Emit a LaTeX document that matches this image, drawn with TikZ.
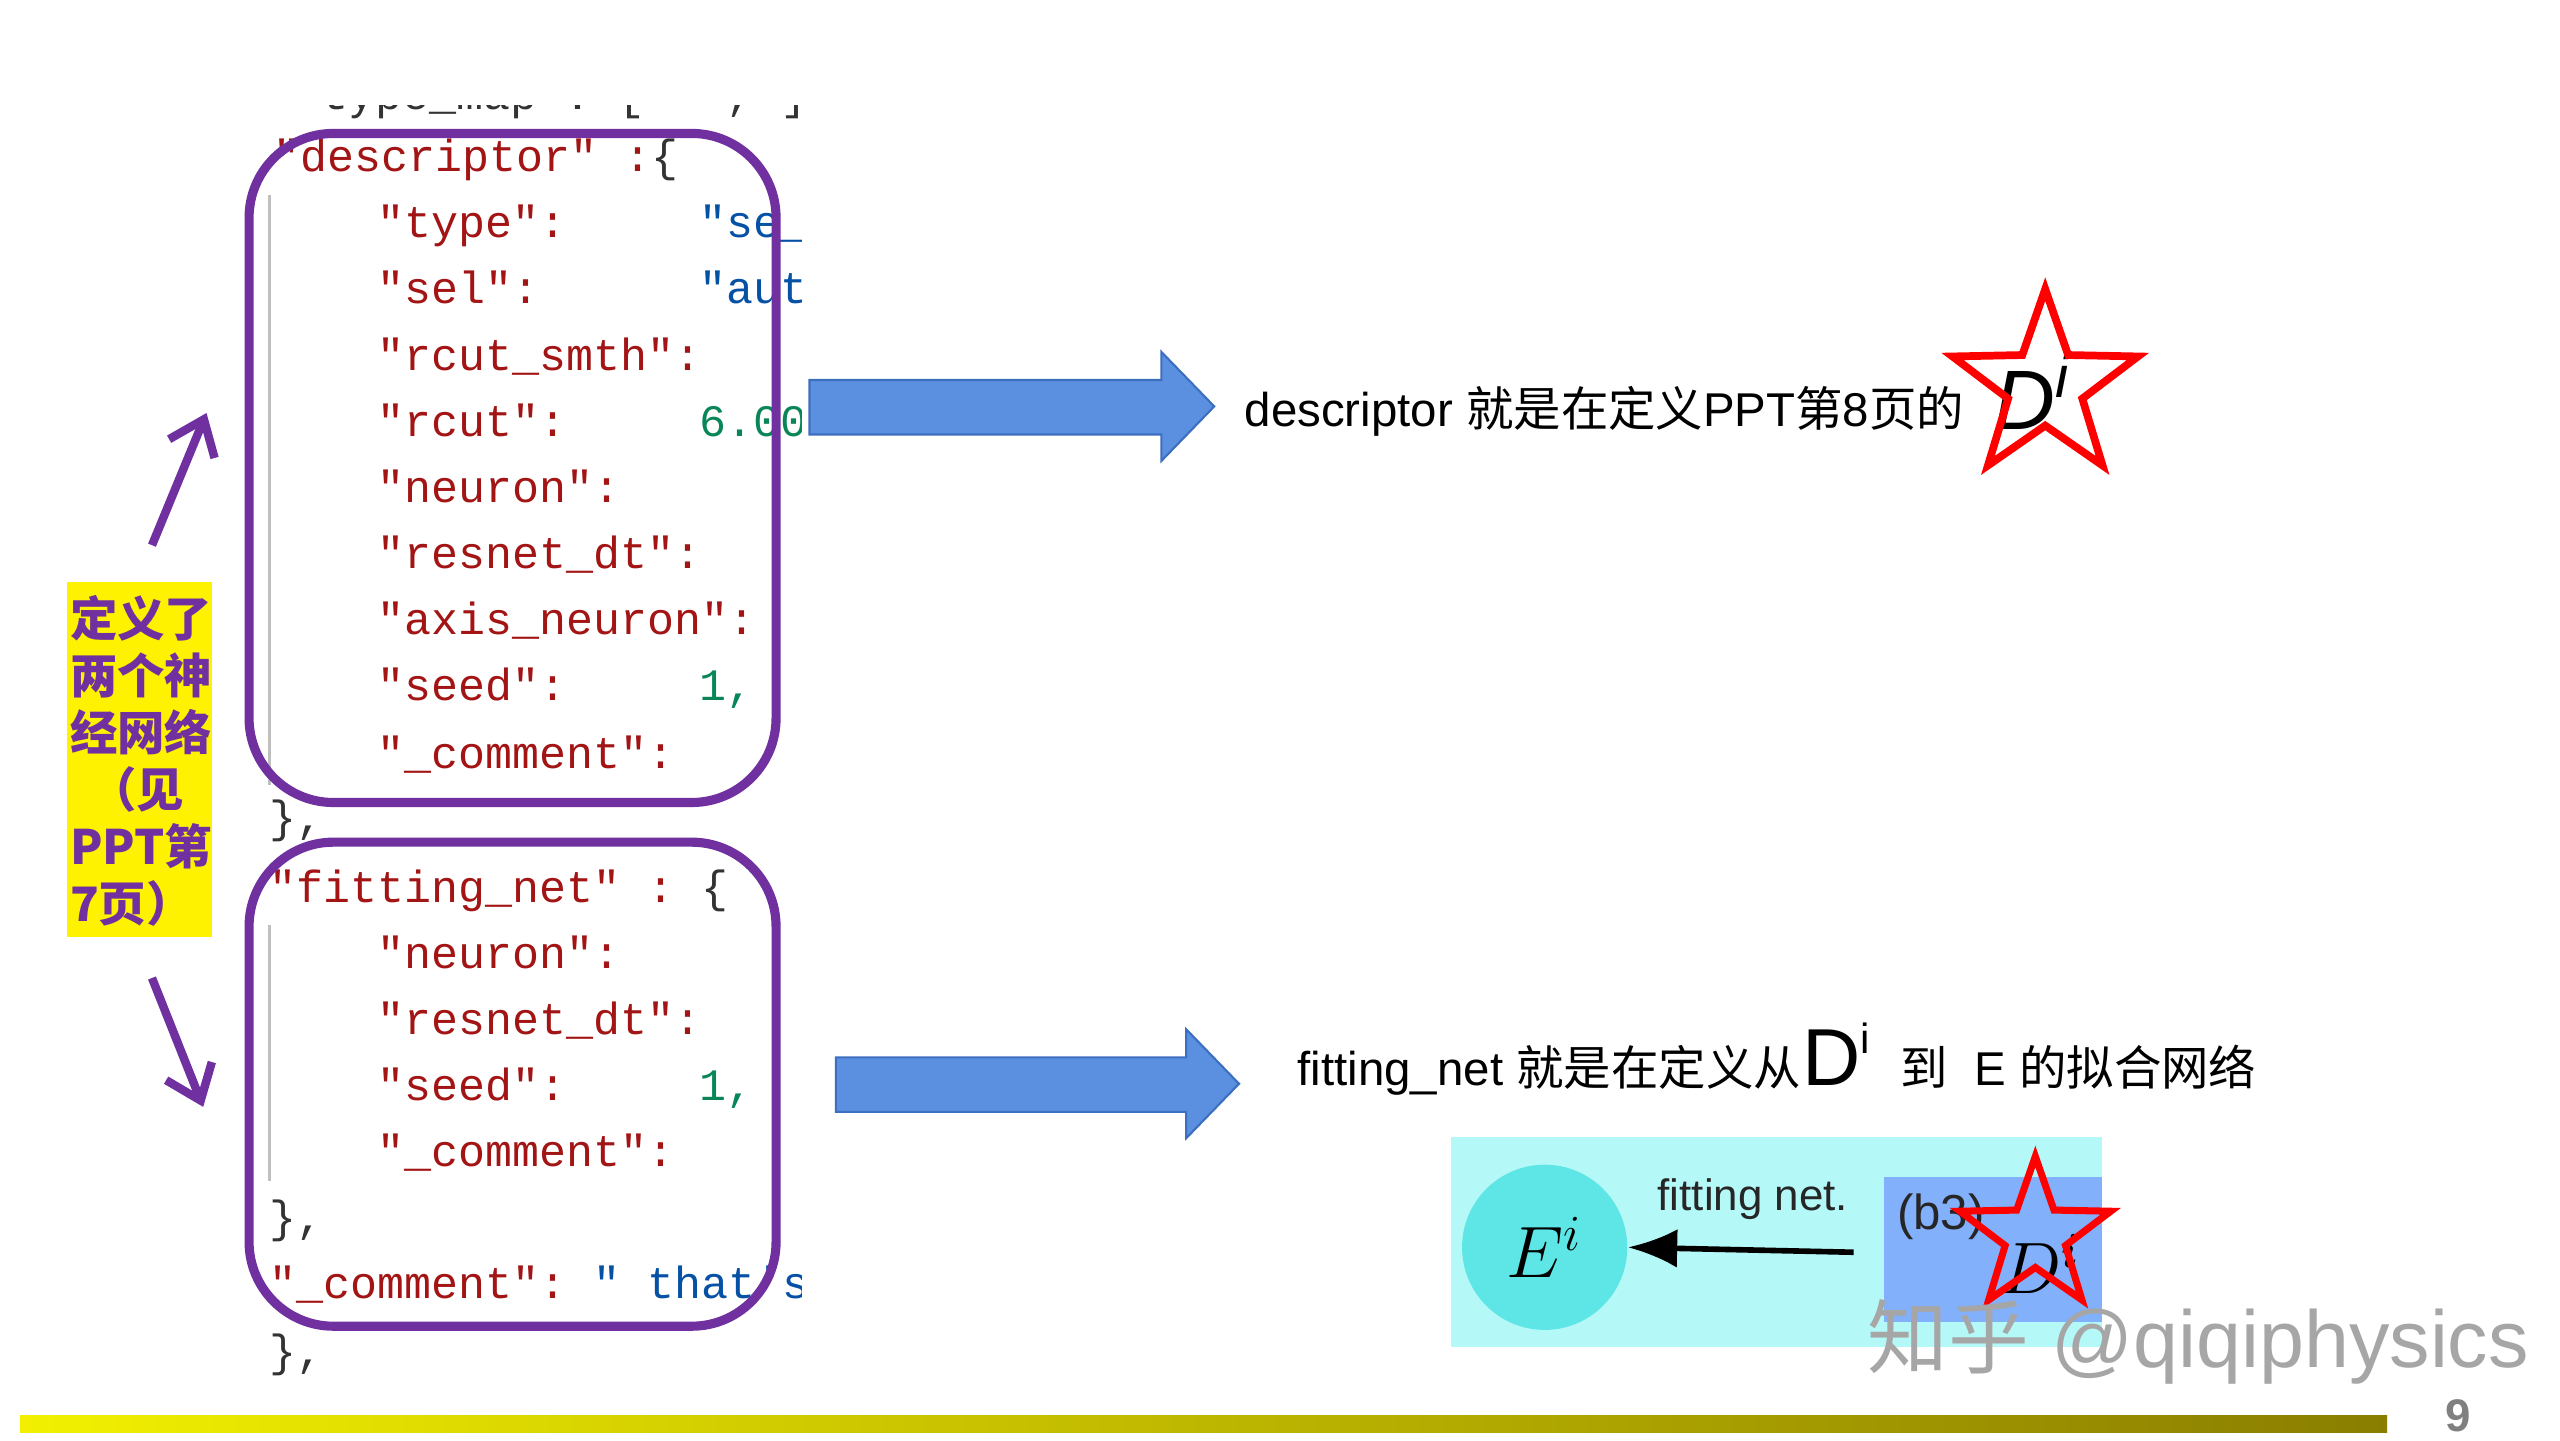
\documentclass[tikz,border=0pt]{standalone}
\usepackage{fontspec}
\setmainfont{Liberation Sans}
\setmonofont{Liberation Mono}
\newfontfamily\cjk{Noto Sans CJK SC}
\usetikzlibrary{shapes.geometric,arrows.meta}
\definecolor{pur}{HTML}{7030A0}
\definecolor{kred}{HTML}{A31515}
\definecolor{kblue}{HTML}{0451A5}
\definecolor{kgreen}{HTML}{098658}
\definecolor{kbr}{HTML}{333333}
\definecolor{barY}{HTML}{F2F000}
\definecolor{barO}{HTML}{8A7E00}
\definecolor{arrB}{HTML}{5B8FE0}
\definecolor{arrD}{HTML}{3D6FC0}
\definecolor{cyanbg}{HTML}{B5F8F8}
\definecolor{cyanc}{HTML}{5EE6E6}
\definecolor{blueb}{HTML}{82B0FA}
\begin{document}
\begin{tikzpicture}[x=0.01652cm,y=-0.01652cm,
  code/.style={anchor=base west,inner sep=0,font=\ttfamily\fontsize{12.8}{14}\selectfont},
  key/.style={code,text=kred},
  sv/.style={code,text=kblue},
  nv/.style={code,text=kgreen},
  br/.style={code,text=kbr},
  pbox/.style={draw=pur,line width=2.6pt,rounded corners=24pt},
  parr/.style={draw=pur,line width=2.4pt,-{Straight Barb[length=9pt,width=14pt,line width=2.4pt]}},
  barrow/.style={fill=arrB,draw=arrD,line width=0.6pt},
  cn/.style={anchor=base west,inner sep=0,font=\fontsize{13.5}{15}\selectfont},
  rstar/.style={star,star points=5,star point ratio=2.5,draw=red,line width=2.2pt,inner sep=0}]
\useasboundingbox (0,0) rectangle (1549.6,871.7);
% code
\begin{scope}
\clip (150,64) rectangle (485,845);
\node[br] (l0) at (178,66) {"type\_map": [ "", ] ,};
\node[key] (l1) at (165,104) {"descriptor" :\textcolor{kbr}{\{}};
\node[key] (l2) at (228,144) {"type":};      \node[sv] (v2) at (423,144) {"se\_a",};
\node[key] (l3) at (228,184) {"sel":};       \node[sv] (v3) at (423,184) {"auto",};
\node[key] (l4) at (228,224) {"rcut\_smth":};
\node[key] (l5) at (228,264) {"rcut":};      \node[nv] (v5) at (423,264) {6.00,};
\node[key] (l6) at (228,304) {"neuron":};
\node[key] (l7) at (228,344) {"resnet\_dt":};
\node[key] (l8) at (228,384) {"axis\_neuron":};
\node[key] (l9) at (228,424) {"seed":};      \node[nv] (v9) at (423,424) {1,};
\node[key] (l10) at (228,465) {"\_comment":};
\node[br] (l11) at (163,504) {\},};
\node[key] (m1) at (163,546) {"fitting\_net" : \textcolor{kbr}{\{}};
\node[key] (m2) at (228,586) {"neuron":};
\node[key] (m3) at (228,626) {"resnet\_dt":};
\node[key] (m4) at (228,666) {"seed":};      \node[nv] (w4) at (423,666) {1,};
\node[key] (m5) at (228,706) {"\_comment":};
\node[br] (m6) at (163,746) {\},};
\node[key] (m7) at (163,786) {"\_comment": \textcolor{kblue}{" that's all"}};
\node[br] (m8) at (163,827) {\},};
\end{scope}
\draw[gray!50,line width=1pt] (163,118) -- (163,475);
\draw[gray!50,line width=1pt] (163,560) -- (163,715);
\node[pbox,minimum width=319*0.01652cm,minimum height=405*0.01652cm,anchor=north west] (box1) at (148,78) {};
\node[pbox,minimum width=319*0.01652cm,minimum height=293*0.01652cm,anchor=north west] (box2) at (148,507) {};
% label
\node[fill=yellow,anchor=north west,minimum width=88*0.01652cm,minimum height=215*0.01652cm,inner sep=0] (lab) at (40,352) {};
\node[anchor=north west,inner sep=0,text=pur,align=left,font=\cjk\bfseries\fontsize{13.5}{16.2}\selectfont] (labt) at (42,360) {定义了\\两个神\\经网络\\\hspace*{0.4em}（见\\PPT第\\7页）};
\coordinate (a1s) at (92,330); \coordinate (a1e) at (125,250);
\coordinate (a2s) at (92,592); \coordinate (a2e) at (123,670);
\draw[parr] (a1s) -- (a1e);
\draw[parr] (a2s) -- (a2e);
% block arrows
\draw[barrow] (490,230) -- (703,230) -- (703,213) -- (735,246) -- (703,279) -- (703,263) -- (490,263) -- cycle;
\draw[barrow] (506,640) -- (718,640) -- (718,623) -- (750,656) -- (718,689) -- (718,673) -- (506,673) -- cycle;
% text 1
\node[cn] (t1) at (753,258) {descriptor {\cjk 就是在定义}PPT{\cjk 第}8{\cjk 页的}};
\node[anchor=base west,inner sep=0,font=\fontsize{24}{26}\selectfont] (d1) at (1207,260) {\textit{D}\textsuperscript{\textit{i}}};
\node[rstar,minimum size=118*0.01652cm] (s1) at (1238,234) {};
% text 2
\node[cn] (t2) at (785,657) {fitting\_net {\cjk 就是在定义从}};
\node[anchor=base west,inner sep=0,font=\fontsize{23}{25}\selectfont] (d2) at (t2.base east) {D\textsuperscript{\fontsize{12}{12}\selectfont i}};
\node[cn] (t3) at (1150,657) {{\cjk 到}\ \ E {\cjk 的拟合网络}};
% image
\node[fill=cyanbg,anchor=north west,minimum width=394*0.01652cm,minimum height=127*0.01652cm,inner sep=0] (img) at (878,688) {};
\node[fill=blueb,anchor=north west,minimum width=132*0.01652cm,minimum height=88*0.01652cm,inner sep=0] (blk) at (1140,712) {};
\node[circle,fill=cyanc,minimum size=100*0.01652cm,inner sep=0] (E) at (935,755) {\fontsize{22}{22}\selectfont$E^i$};
\node[anchor=base west,inner sep=0,font=\fontsize{12.5}{14}\selectfont,text=black!85] (fn) at (1003,733) {fitting net.};
\node[anchor=base west,inner sep=0,font=\fontsize{14}{14}\selectfont,text=black!85] (b3) at (1148,744) {(b3)};
\node[inner sep=0,font=\fontsize{20}{20}\selectfont] (Dimg) at (1235,765) {$D^i$};
\coordinate (fa) at (1122,758);
\draw[line width=1.6pt,-{Latex[length=14pt,width=11pt]}] (fa) -- (E.east);
\node[rstar,minimum size=96*0.01652cm,line width=2pt] (s2) at (1232,748) {};
% watermark
\node[anchor=base west,inner sep=0,text=black!35,font=\fontsize{23}{25}\selectfont] (wm) at (1130,828) {{\cjk 知乎} @qiqiphysics};
% bottom bar
\shade[left color=barY,right color=barO] (12,857) rectangle (1445,867);
\node[inner sep=0,text=gray,font=\bfseries\fontsize{13}{13}\selectfont] (pg) at (1488,857) {9};
\end{tikzpicture}
\end{document}
